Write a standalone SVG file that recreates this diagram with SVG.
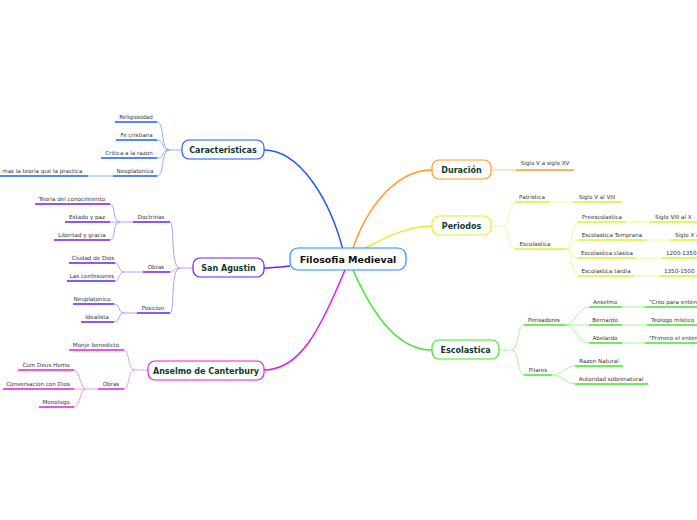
<svg xmlns="http://www.w3.org/2000/svg" width="697" height="520" viewBox="0 0 697 520">
<style>
text{font-family:"DejaVu Sans",sans-serif;font-size:5.6px;fill:#333}
.n{font-size:8px;font-weight:bold;fill:#0d3b2e;text-anchor:middle}
.c{font-size:9.5px;font-weight:bold;fill:#111;text-anchor:middle}
.m{text-anchor:middle}
path{fill:none}
.b{stroke:#1f5bff}.bl{stroke:#8fb0ff}
.p{stroke:#6a1fff}.pl{stroke:#b79cff}
.g{stroke:#e01fe0}.gl{stroke:#f09cf0}
.o{stroke:#ff9a1f}.ol{stroke:#ffc98a}
.y{stroke:#d8f52a}.yl{stroke:#ecfa9a}
.e{stroke:#3fe82a}.el{stroke:#a6f59a}
.u{stroke-width:1.3}.k{stroke-width:1}
</style>
<g id="connectors">
<path class="b" stroke-width="1.5" d="M343,250 C330,200 300,150 264,150"/>
<path class="p" stroke-width="1.5" d="M290,266 C280,267 270,268 264,268"/>
<path class="g" stroke-width="1.5" d="M345,270 C320,330 300,370 264,370"/>
<path class="o" stroke-width="1.5" d="M353,248 C370,200 400,170 432,170"/>
<path class="y" stroke-width="1.5" d="M365,248 C390,235 410,226 432,226"/>
<path class="e" stroke-width="1.5" d="M353,270 C375,320 400,350 432,350"/>
<g class="bl k"><path d="M182,150 H170 M170,150 C160,150 165,122 157,122 M170,150 C160,150 165,140 157,140 M170,150 C160,150 165,158 157,158 M170,150 C160,150 165,176 157,176 M88,176 H113"/></g>
<g class="b u"><path d="M115,122H157M116,140H157M101,158H157M113,176H157M0,176H88"/></g>
<g class="pl k"><path d="M193,268 H180 M180,268 C170,268 175,222 170,222 M180,268 C172,268 175,272 170,272 M180,268 C170,268 175,313 170,313 M133,222 H120 C112,222 116,204 110,204 M120,222 H110 M120,222 C112,222 116,240 110,240 M143,272 H125 C118,272 120,263 115,263 M125,272 C118,272 120,281 115,281 M137,313 H124 C118,313 120,304 114,304 M124,313 C118,313 120,322 114,322"/></g>
<g class="p u"><path d="M133,222H170M143,272H170M137,313H170M35,204H110M65,222H110M54,240H110M69,263H115M67,281H115M73,304H114M81,322H114"/></g>
<g class="gl k"><path d="M148,370 H135 M135,370 C127,370 130,350 124,350 M135,370 C127,370 130,389 124,389 M98,389 H86 C80,389 80,370 74,370 M86,389 H74 M86,389 C80,389 80,407 74,407"/></g>
<g class="g u"><path d="M69,350H124M98,389H124M18,370H74M3,389H74M39,407H74"/></g>
<g class="ol k"><path d="M491,170 H516"/></g>
<g class="o u"><path d="M516,170H574"/></g>
<g class="yl k"><path d="M491,226 H503 C510,226 508,202 515,202 M503,226 C510,226 508,249 515,249 M550,202 H573 M566,249 C572,249 572,222 578,222 M566,249 C572,249 572,240 578,240 M566,249 C572,249 572,258 578,258 M566,249 C572,249 572,276 578,276 M626,222H650 M646,240H670 M636,258H662 M634,276H659"/></g>
<g class="y u"><path d="M515,202H550M573,202H622M515,249H566M578,222H626M650,222H697M578,240H646M670,240H697M578,258H636M662,258H697M578,276H634M659,276H697"/></g>
<g class="el k"><path d="M499,350 H512 C519,350 517,325 524,325 M512,350 C519,350 517,375 524,375 M565,325 C575,325 578,307 589,307 M565,325 H589 M565,325 C575,325 578,343 589,343 M622,307H645 M622,325H647 M622,343H645 M552,375 C562,375 566,366 575,366 M552,375 C562,375 566,384 575,384"/></g>
<g class="e u"><path d="M524,325H565M524,375H552M589,307H622M589,325H622M589,343H622M645,307H697M647,325H697M645,343H697M575,366H623M575,384H648"/></g>
</g>
<g id="n-central"><rect x="290" y="248" width="116" height="22" rx="8" fill="#fff" stroke="#1f8fff" stroke-width="1.2"/><text class="c" x="348" y="263">Filosofia Medieval</text></g>
<g id="n-caract"><rect x="182" y="140" width="82" height="19" rx="7" fill="#fff" stroke="#1f5bff" stroke-width="1.2"/><text class="n" x="223" y="153">Caracteristicas</text></g>
<g id="n-agustin"><rect x="193" y="258" width="71" height="19" rx="7" fill="#fff" stroke="#6a1fff" stroke-width="1.2"/><text class="n" x="228.5" y="271">San Agustin</text></g>
<g id="n-anselmo"><rect x="148" y="361" width="116" height="19" rx="7" fill="#fff" stroke="#e01fe0" stroke-width="1.2"/><text class="n" x="206" y="374">Anselmo de Canterbury</text></g>
<g id="n-duracion"><rect x="432" y="160" width="59" height="19" rx="7" fill="#fff" stroke="#ff9a1f" stroke-width="1.2"/><text class="n" x="461.5" y="173">Duración</text></g>
<g id="n-periodos"><rect x="432" y="216" width="59" height="19" rx="7" fill="#fff" stroke="#d8f52a" stroke-width="1.2"/><text class="n" x="461.5" y="229">Periodos</text></g>
<g id="n-escol"><rect x="432" y="340" width="67" height="19" rx="7" fill="#fff" stroke="#3fe82a" stroke-width="1.2"/><text class="n" x="465.5" y="353">Escolastica</text></g>
<g id="labels">
<text class="m" x="136" y="119">Religiosidad</text>
<text class="m" x="136.5" y="137">Fe cristiana</text>
<text class="m" x="129" y="155">Critica a la razon</text>
<text class="m" x="135" y="173">Neoplatonica</text>
<text x="-3" y="173">a mas la teoria que la practica</text>
<text class="m" x="151" y="219">Doctrinas</text>
<text class="m" x="72" y="201">Teoria del conocimiento</text>
<text class="m" x="87" y="219">Estado y paz</text>
<text class="m" x="82" y="237">Libertad y gracia</text>
<text class="m" x="156" y="269">Obras</text>
<text class="m" x="93" y="260">Ciudad de Dios</text>
<text class="m" x="92" y="278">Las confesiones</text>
<text class="m" x="153" y="310">Posicion</text>
<text class="m" x="92" y="301">Neuplatonico</text>
<text class="m" x="97" y="319">Idealista</text>
<text class="m" x="96" y="347">Monje benedicto</text>
<text class="m" x="111" y="386">Obras</text>
<text class="m" x="46" y="367">Cum Deus Homo</text>
<text class="m" x="38" y="386">Conversacion con Dios</text>
<text class="m" x="56" y="404">Monologo</text>
<text class="m" x="545" y="165">Siglo V a siglo XV</text>
<text class="m" x="532" y="199">Patristica</text>
<text class="m" x="597" y="199">Siglo V al VIII</text>
<text class="m" x="535" y="246">Escolastica</text>
<text class="m" x="602" y="219">Preescolastica</text>
<text x="655" y="219">Siglo VIII al X</text>
<text class="m" x="612" y="237">Escolastica Temprana</text>
<text x="675" y="237">Siglo X a</text>
<text class="m" x="607" y="255">Escolastica clasica</text>
<text x="666" y="255">1200-1350</text>
<text class="m" x="606" y="273">Escolastica tardia</text>
<text x="664" y="273">1350-1500</text>
<text class="m" x="544" y="322">Pensadores</text>
<text class="m" x="605" y="304">Anselmo</text>
<text x="649" y="304">"Creo para entender"</text>
<text class="m" x="605" y="322">Bernardo</text>
<text x="651" y="322">Teologo mistico</text>
<text class="m" x="605" y="340">Abelardo</text>
<text x="649" y="340">"Primero el entender"</text>
<text class="m" x="538" y="372">Pilares</text>
<text class="m" x="599" y="363">Razon Natural</text>
<text class="m" x="611" y="381">Autoridad sobrenatural</text>
</g>
</svg>
